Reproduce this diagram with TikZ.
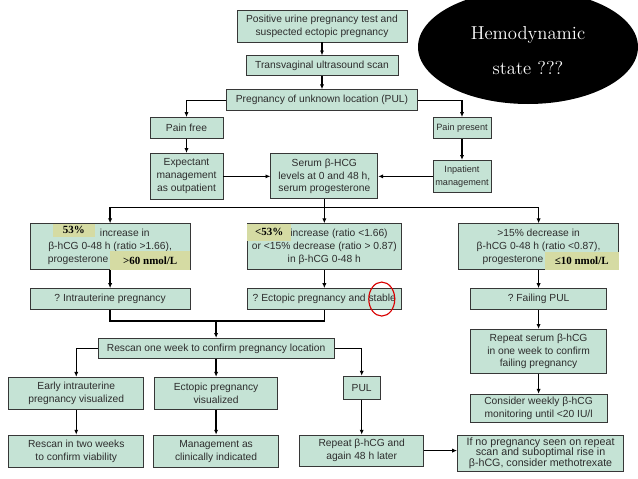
\documentclass[tikz,border=0pt]{standalone}
\usepackage{fontspec}
\setsansfont{Liberation Sans}
\newfontfamily\hlserif{Liberation Serif}
\usepackage{tikz}
\usetikzlibrary{shapes.geometric, arrows.meta, positioning, calc}
\definecolor{boxfill}{RGB}{197,227,213}
\definecolor{boxline}{RGB}{55,55,55}
\definecolor{boxtext}{RGB}{45,45,45}
\definecolor{hlfill}{RGB}{213,219,163}
\newcommand{\boxfont}{\sffamily\fontsize{7.3}{9.2}\selectfont}
\newcommand{\smallboxfont}{\sffamily\fontsize{6.5}{9}\selectfont}
\newcommand{\tightboxfont}{\sffamily\fontsize{7.6}{7.3}\selectfont}
\newcommand{\hlfont}{\hlserif\bfseries\fontsize{7.8}{9}\selectfont}
\frenchspacing
\tikzset{
  stepbox/.style={
    rectangle, draw=boxline, fill=boxfill, line width=0.6pt,
    text=boxtext, font=\boxfont, align=center, inner sep=1pt
  },
  hilite/.style={
    rectangle, fill=hlfill, inner sep=0pt, text=black, font=\hlfont
  },
  hemotext/.style={
    text=white, align=center, font=\fontsize{13.3}{24.8}\selectfont
  },
  ringmark/.style={draw=red!85!black, line width=0.8pt},
  link/.style={line width=0.95pt, color=black},
  arrow/.style={line width=0.95pt, -{Latex[length=3.5pt,width=3pt]}, color=black},
}

\begin{document}
\begin{tikzpicture}[node distance=3.25mm and 2.5mm]
  \useasboundingbox (0,0) rectangle (159.5mm,-119.75mm);
  \clip (0,0) rectangle (159.5mm,-119.75mm);

  % top of the chart
  \node (test)     [stepbox, minimum width=42.5mm, minimum height=8mm] at (80.5mm,-6.5mm) {Positive urine pregnancy test and\\suspected ectopic pregnancy};
  \node (tvus)     [stepbox, minimum width=38mm, minimum height=5mm, below=of test] {Transvaginal ultrasound scan};
  \node (pul)      [stepbox, minimum width=47.75mm, minimum height=5.25mm, below=of tvus] {Pregnancy of unknown location (PUL)};
  \node (painfree) [stepbox, minimum width=18.25mm, minimum height=5.25mm, below=1.5mm of pul, xshift=-33.875mm] {Pain free};
  \node (painpres) [stepbox, font=\smallboxfont, minimum width=14.5mm, minimum height=5.25mm, below=1.5mm of pul, xshift=35mm] {Pain present};
  \node (expect)   [stepbox, minimum width=18.25mm, minimum height=11.5mm, below=3.5mm of painfree] {Expectant\\management\\as outpatient};
  \node (serum)    [stepbox, minimum width=26.75mm, minimum height=11.25mm, right=11.75mm of expect] {Serum β-HCG\\levels at 0 and 48 h,\\serum progesterone};
  \node (inpat)    [stepbox, font=\smallboxfont, minimum width=14.5mm, minimum height=8mm, below=5.25mm of painpres] {Inpatient\\management};

  % hCG criteria
  \node (crit2) [stepbox, minimum width=38.5mm, minimum height=11.5mm, below=6mm of serum] {\hphantom{<53\% }increase (ratio <1.66)\\or <15\% decrease (ratio > 0.87)\\in β-hCG 0-48 h};
  \node (crit1) [stepbox, minimum width=40mm, minimum height=11.5mm, left=14.1mm of crit2] {\hphantom{>53\% }increase in\\β-hCG 0-48 h (ratio >1.66),\\progesterone\hspace*{16mm}};
  \node (crit3) [stepbox, minimum width=40mm, minimum height=11.5mm, right=14.1mm of crit2] {>15\% decrease in\\β-hCG 0-48 h (ratio <0.87),\\progesterone\hspace*{12.8mm}};
  \node (hl1) [hilite, anchor=north west, minimum width=10.5mm, minimum height=3.25mm] at ([xshift=5.75mm]crit1.north west) {53\%};
  \node (hl2) [hilite, anchor=south east, minimum width=20mm, minimum height=4.75mm] at (crit1.south east) {>60 nmol/L};
  \node (hl3) [hilite, anchor=north west, minimum width=11mm, minimum height=4.25mm] at (crit2.north west) {<53\%};
  \node (hl4) [hilite, anchor=south east, minimum width=18.5mm, minimum height=4.5mm] at (crit3.south east) {≤10 nmol/L};

  \node (iup)    [stepbox, minimum width=40mm, minimum height=5.25mm, below=4.5mm of crit1] {? Intrauterine pregnancy};
  \node (ect)    [stepbox, minimum width=38.5mm, minimum height=5.25mm, below=4.5mm of crit2] {? Ectopic pregnancy and stable};
  \node (fail)   [stepbox, minimum width=34mm, minimum height=5.25mm, below=4.5mm of crit3] {? Failing PUL};
  \node (repser) [stepbox, minimum width=34mm, minimum height=11mm, below=4.75mm of fail] {Repeat serum β-hCG\\in one week to confirm\\failing pregnancy};
  \node (weekly) [stepbox, minimum width=34.25mm, minimum height=7mm, below=5mm of repser] {Consider weekly β-hCG\\monitoring until <20 IU/l};

  % rescan branch
  \node (rescan) [stepbox, minimum width=59mm, minimum height=5mm, below=7mm of iup, xshift=26.5mm] {Rescan one week to confirm pregnancy location};
  \node (ectvis) [stepbox, minimum width=30.75mm, minimum height=8mm, below=4.5mm of rescan] {Ectopic pregnancy\\visualized};
  \node (early)  [stepbox, minimum width=33.75mm, minimum height=8mm, left=2.5mm of ectvis] {Early intrauterine\\pregnancy visualized};
  \node (pulb)   [stepbox, minimum width=9.25mm, minimum height=5.75mm, below=4.25mm of rescan, xshift=36.4mm] {PUL};
  \node (resc2)  [stepbox, minimum width=33.75mm, minimum height=8mm, below=6.25mm of early] {Rescan in two weeks\\to confirm viability};
  \node (mgmt)   [stepbox, minimum width=31.25mm, minimum height=8mm, below=6.25mm of ectvis] {Management as\\clinically indicated};
  \node (rephcg) [stepbox, minimum width=31mm, minimum height=7.75mm, below=8.75mm of pulb] {Repeat β-hCG and\\again 48 h later};
  \node (mtx)    [stepbox, font=\tightboxfont, minimum width=41.5mm, minimum height=9mm, right=8.25mm of rephcg, yshift=-0.6mm] {If no pregnancy seen on repeat\\scan and suboptimal rise in\\β-hCG, consider methotrexate};

  \coordinate (split) at ([yshift=-2mm]serum.south);
  \coordinate (merge) at ([yshift=4.25mm]rescan.north);

  \draw [arrow] (test)      -- (tvus);
  \draw [arrow] (tvus)      -- (pul);
  \draw [arrow] (pul.west)  -| (painfree.north);
  \draw [arrow] (pul.east)  -| (painpres.north);
  \draw [arrow] (painfree)  -- (expect);
  \draw [arrow] (painpres)  -- (inpat);
  \draw [arrow] (expect)    -- (serum);
  \draw [arrow] (inpat.west) -- (inpat.west -| serum.east);
  \draw [link]  (serum)     -- (split);
  \draw [arrow] (split)     -| (crit1);
  \draw [arrow] (split)     -- (crit2);
  \draw [arrow] (split)     -| (crit3);
  \draw [arrow] (crit1)     -- (iup);
  \draw [arrow] (crit2)     -- (ect);
  \draw [arrow] (crit3)     -- (fail);
  \draw [arrow] (fail)      -- (repser);
  \draw [arrow] (repser)    -- (weekly);
  \draw [link]  (iup.south) |- (merge) -| (ect.south);
  \draw [arrow] (merge)     -- (rescan);
  \draw [arrow] (rescan.west) -| (early.north);
  \draw [arrow] (rescan)    -- (ectvis);
  \draw [arrow] (rescan.east) -| (pulb.north);
  \draw [arrow] (early)     -- (resc2);
  \draw [arrow] (ectvis)    -- (mgmt);
  \draw [arrow] (pulb)      -- (rephcg);
  \draw [arrow] (rephcg.east) -- (rephcg.east -| mtx.west);

  % red ring and black oval
  \draw [ringmark] ([xshift=-5mm]ect.east) ellipse [x radius=3.25mm, y radius=4.25mm];
  \fill [black] (132mm,-11.75mm) ellipse [x radius=27.5mm, y radius=14.25mm];
  \node (hemo) [hemotext] at (132mm,-12.6mm) {Hemodynamic\\state ???};
\end{tikzpicture}
\end{document}
